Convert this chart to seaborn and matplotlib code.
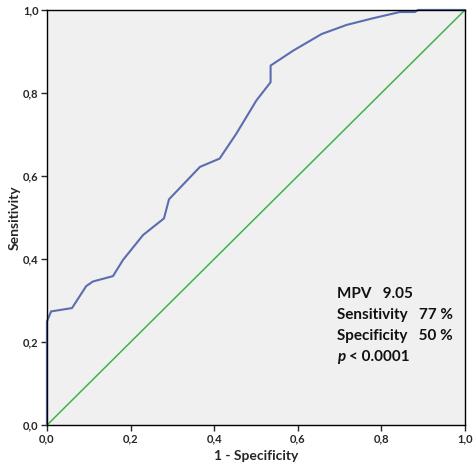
import matplotlib
matplotlib.use("Agg")
import matplotlib.pyplot as plt
import seaborn as sns
import pandas as pd

fpr = [0, 0, 0.01, 0.06, 0.094, 0.11, 0.158, 0.182, 0.23, 0.28, 0.292, 0.366, 0.413, 0.453,
       0.501, 0.535, 0.535, 0.589, 0.657, 0.717, 0.78, 0.844, 0.88, 0.888, 1.0]
tpr = [0, 0.25, 0.274, 0.282, 0.335, 0.346, 0.359, 0.398, 0.458, 0.498, 0.544, 0.622, 0.642, 0.702,
       0.782, 0.826, 0.866, 0.902, 0.942, 0.964, 0.98, 0.995, 0.995, 1.0, 1.0]
ref = [0.0, 1.0]
ticks = [0.0, 0.2, 0.4, 0.6, 0.8, 1.0]
tick_labels = ["0,0", "0,2", "0,4", "0,6", "0,8", "1,0"]

sns.set_style("ticks")
plt.rcParams['font.family'] = ['Lato', 'DejaVu Sans']

fig = plt.figure(figsize=(4.74, 4.74), dpi=100)
ax = fig.add_axes([0.099, 0.103, 0.882, 0.876])
ax.set_facecolor("#f0f0f0")
df = pd.DataFrame({"x": fpr, "y": tpr})
sns.lineplot(data=df, x="x", y="y", ax=ax, color="#5a6db0", lw=1.5, sort=False, estimator=None,
             clip_on=False)
sns.lineplot(x=ref, y=ref, ax=ax, color="#3cb44b", lw=1.1)
ax.set_xlim(0, 1); ax.set_ylim(0, 1)
ax.set_xticks(ticks); ax.set_xticklabels(tick_labels, fontsize=8, fontweight="bold")
ax.set_yticks(ticks); ax.set_yticklabels(tick_labels, fontsize=8, fontweight="bold")
ax.set_xlabel("1 - Specificity", fontsize=10, fontweight="bold")
ax.set_ylabel("Sensitivity", fontsize=10, fontweight="bold", labelpad=2)
for s in ax.spines.values():
    s.set_color("black"); s.set_linewidth(1)
ax.tick_params(length=4, width=1, pad=2)

txt = ["MPV   9.05", "Sensitivity   77 %", "Specificity   50 %"]
ys = [0.315, 0.265, 0.215]
for t, y in zip(txt, ys):
    ax.text(0.695, y, t, fontsize=11, fontweight="bold", color="#111111", va="center")
ax.text(0.695, 0.165, r"$\boldsymbol{p}$", fontsize=11, va="center") if False else None
ax.text(0.695, 0.165, "p", fontsize=11, fontweight="bold", fontstyle="italic", color="#111111", va="center")
ax.text(0.722, 0.165, "< 0.0001", fontsize=11, fontweight="bold", color="#111111", va="center")
fig.savefig("out.png", dpi=100)
